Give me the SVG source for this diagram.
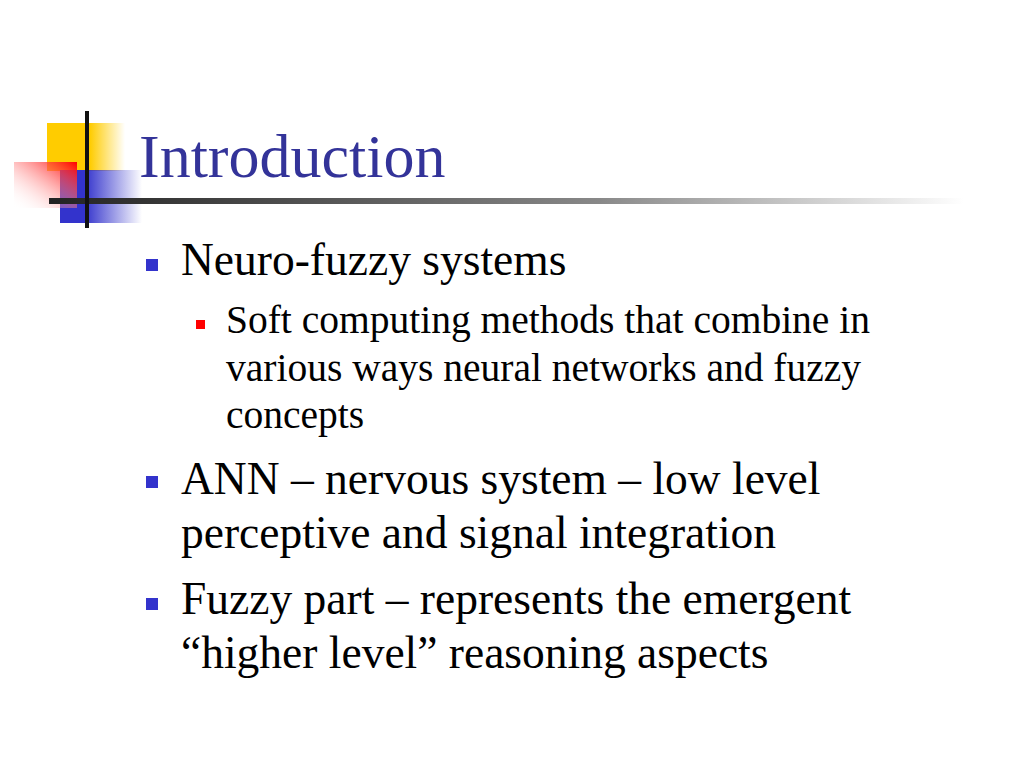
<svg xmlns="http://www.w3.org/2000/svg" width="1024" height="768" viewBox="0 0 1024 768">
<defs>
<linearGradient id="gy" x1="0" x2="1" y1="0" y2="0"><stop offset="0.55" stop-color="#ffcc00"/><stop offset="1" stop-color="#ffcc00" stop-opacity="0"/></linearGradient>
<linearGradient id="gb" x1="0" x2="1" y1="0" y2="0"><stop offset="0.3" stop-color="#3333cc"/><stop offset="1" stop-color="#3333cc" stop-opacity="0"/></linearGradient>
<linearGradient id="gr" x1="1" y1="0" x2="0" y2="1"><stop offset="0" stop-color="#ff0000"/><stop offset="1" stop-color="#ffffff" stop-opacity="0"/></linearGradient>
<linearGradient id="gl" x1="0" x2="1" y1="0" y2="0"><stop offset="0" stop-color="#222"/><stop offset="0.6" stop-color="#888"/><stop offset="1" stop-color="#fff"/></linearGradient>
</defs>
<style>
.t{font-family:"Liberation Serif",serif;fill:#000}
.m{font-size:45.5px}.s{font-size:39.5px}
.b1{fill:#3333cc}.b2{fill:#ff0000}
</style>
<rect width="1024" height="768" fill="#fff"/>
<g id="deco">
<rect x="47" y="123" width="78" height="48" fill="url(#gy)"/>
<rect x="60" y="170" width="82" height="53" fill="url(#gb)"/>
<rect x="14" y="162" width="63" height="46" fill="url(#gr)"/>
<rect x="49" y="198" width="915" height="6" fill="url(#gl)"/>
<rect x="85" y="111" width="4" height="117" fill="#111"/>
</g>
<text class="t" x="139" y="177" font-size="62" style="fill:#333399">Introduction</text>
<rect class="b1" x="146" y="259" width="12" height="12"/>
<text class="t m" x="181" y="275">Neuro-fuzzy systems</text>
<rect class="b2" x="196" y="320" width="9" height="9"/>
<text class="t s" x="226" y="333">Soft computing methods that combine in</text>
<text class="t s" x="226" y="381">various ways neural networks and fuzzy</text>
<text class="t s" x="226" y="428">concepts</text>
<rect class="b1" x="146" y="476" width="12" height="12"/>
<text class="t m" x="181" y="494">ANN – nervous system – low level</text>
<text class="t m" x="181" y="548">perceptive and signal integration</text>
<rect class="b1" x="146" y="598" width="12" height="12"/>
<text class="t m" x="181" y="614">Fuzzy part – represents the emergent</text>
<text class="t m" x="181" y="668">“higher level” reasoning aspects</text>
</svg>
